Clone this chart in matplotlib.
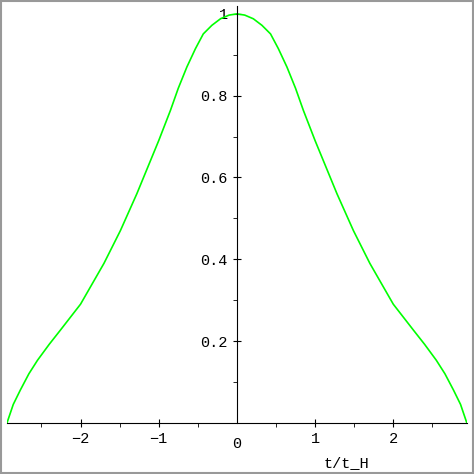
import matplotlib
matplotlib.use("Agg")
import matplotlib.pyplot as plt

# right half readings (curve is symmetric about t=0)
x_half = [0.0, 0.1, 0.21, 0.32, 0.43, 0.53, 0.64, 0.75, 0.85, 1.0, 1.14, 1.28, 1.49,
          1.70, 1.85, 2.0, 2.13, 2.26, 2.40, 2.55, 2.66, 2.77, 2.86, 2.94]
y_half = [1.0, 0.997, 0.988, 0.972, 0.951, 0.915, 0.87, 0.818, 0.764, 0.69, 0.625, 0.56, 0.47,
          0.39, 0.34, 0.29, 0.258, 0.226, 0.192, 0.153, 0.12, 0.08, 0.045, 0.0]

x_vals = [-v for v in x_half[::-1]] + x_half[1:]
y_vals = y_half[::-1] + y_half[1:]

fig = plt.figure(figsize=(4.74, 4.74), dpi=100)
fig.patches.append(plt.Rectangle((0.002, 0.002), 0.996, 0.996, transform=fig.transFigure,
                                 fill=False, edgecolor='#999999', linewidth=1.5))
ax = fig.add_axes([0.0148, 0.108, 0.970, 0.880])
ax.plot(x_vals, y_vals, color='#00ff00', linewidth=1.2)
ax.set_xlim(-2.94, 2.94)
ax.set_ylim(0, 1.02)
for s in ['top', 'right']:
    ax.spines[s].set_visible(False)
ax.spines['left'].set_position(('data', 0))
ax.spines['bottom'].set_position(('data', 0))
ax.set_xticks([-2, -1, 1, 2])
ax.set_xticks([-2.5, -1.5, -0.5, 0.5, 1.5, 2.5], minor=True)
ax.set_yticks([0.2, 0.4, 0.6, 0.8, 1.0])
ax.set_yticklabels(['0.2', '0.4', '0.6', '0.8', '1'])
ax.set_yticks([0.1, 0.3, 0.5, 0.7, 0.9], minor=True)
fn = 'Liberation Mono'
for lab in ax.get_xticklabels() + ax.get_yticklabels():
    lab.set_fontfamily(fn)
    lab.set_fontsize(11)
ax.tick_params(direction='inout', length=6)
ax.tick_params(which='minor', direction='out', length=3)
ax.text(0.0, -0.035, '0', ha='center', va='top', fontfamily=fn, fontsize=11)
ax.text(1.4, -0.08, 't/t_H', ha='center', va='top', fontfamily=fn, fontsize=11)
fig.savefig('out.png', dpi=100)
